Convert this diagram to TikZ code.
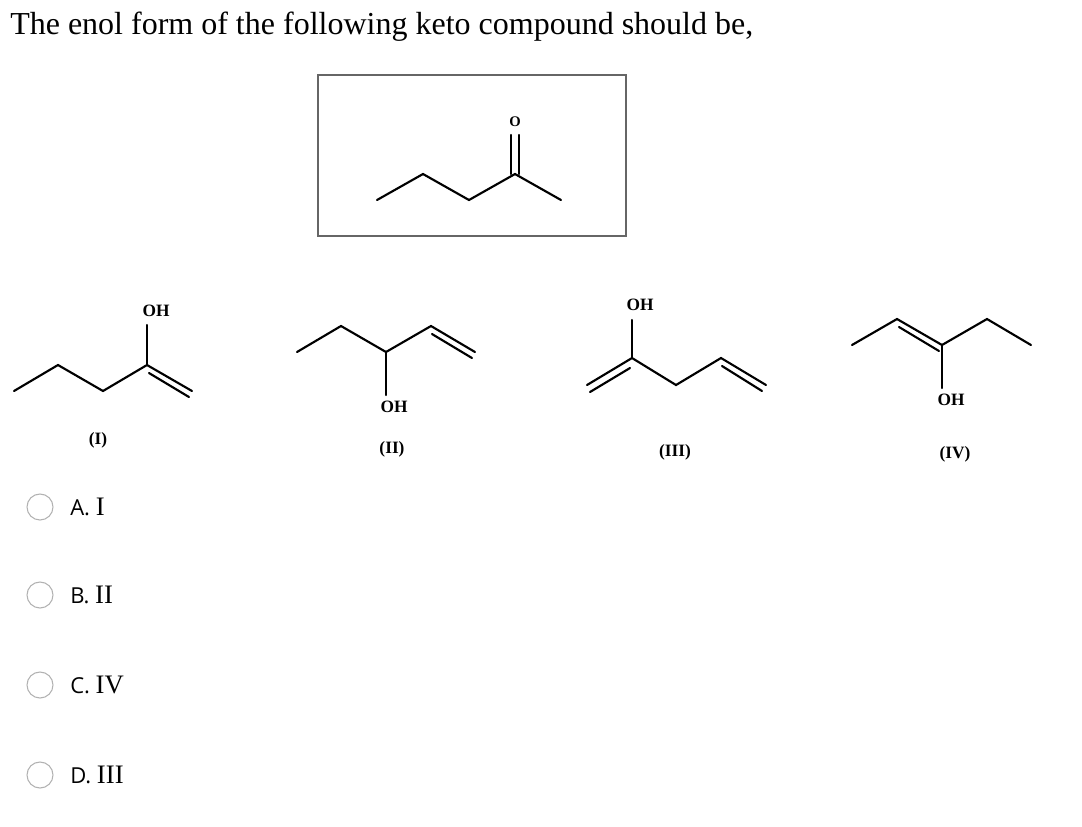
\documentclass[tikz,border=0pt]{standalone}
\usepackage{fontspec}
\setmainfont{Liberation Serif}
\newfontfamily\optfont{Open Sans}
\begin{document}
\begin{tikzpicture}[x=0.75pt,y=-0.75pt,
  bond/.style={line width=1.6pt,line cap=round},
  lab/.style={font=\fontsize{13}{13}\selectfont\bfseries,inner sep=0pt},
  radio/.style={circle,draw=gray!60,line width=0.8pt,minimum size=19.5pt,inner sep=0pt,fill=white},
  opt/.style={anchor=west,inner sep=0pt,font=\optfont\fontsize{16.5}{16.5}\selectfont}]
\useasboundingbox (0,0) rectangle (1082,826);
\node[anchor=west,inner sep=0pt,font=\fontsize{24}{24}\selectfont] (title) at (10,27) {The enol form of the following keto compound should be,};
% box
\draw[line width=1pt,draw=gray!80!black] (318,75) rectangle (626,236);
\draw[bond] (377,200)--(423,174)--(469,200)--(515,174)--(561,200);
\draw[bond] (511,174)--(511,135) (519,174)--(519,135);
\node[lab,font=\fontsize{11}{11}\selectfont\bfseries] (O) at (515,122) {O};
% I
\draw[bond] (14,391)--(58,365)--(103,391)--(147,365)--(192,391);
\draw[bond] (149,373)--(189,397);
\draw[bond] (147,365)--(147,325);
\node[lab] (oh1) at (156,311) {OH};
\node[lab] (l1) at (98,440) {(I)};
% II
\draw[bond] (297,352)--(341,326)--(386,352)--(431,326)--(475,352);
\draw[bond] (432,334)--(472,358);
\draw[bond] (386,352)--(386,395);
\node[lab] (oh2) at (394,407) {OH};
\node[lab] (l2) at (392,449) {(II)};
% III
\draw[bond] (587,385)--(632,358)--(676,385)--(721,358)--(766,385);
\draw[bond] (590,392)--(630,368) (722,366)--(762,391);
\draw[bond] (632,358)--(632,320);
\node[lab] (oh3) at (640,305) {OH};
\node[lab] (l3) at (675,452) {(III)};
% IV
\draw[bond] (852,345)--(897,319)--(942,345)--(987,319)--(1031,345);
\draw[bond] (899,327)--(939,351);
\draw[bond] (942,345)--(942,388);
\node[lab] (oh4) at (951,400) {OH};
\node[lab] (l4) at (955,454) {(IV)};
% options
\foreach \y/\t/\r [count=\i] in {507/A./I,595/B./II,685/C./IV,775/D./III}{
  \node[radio] (r\i) at (40,\y) {};
  \node[opt] (o\i) at (70,\y) {\t\ \fontsize{20}{20}\rmfamily\selectfont\r};
}
\end{tikzpicture}
\end{document}
